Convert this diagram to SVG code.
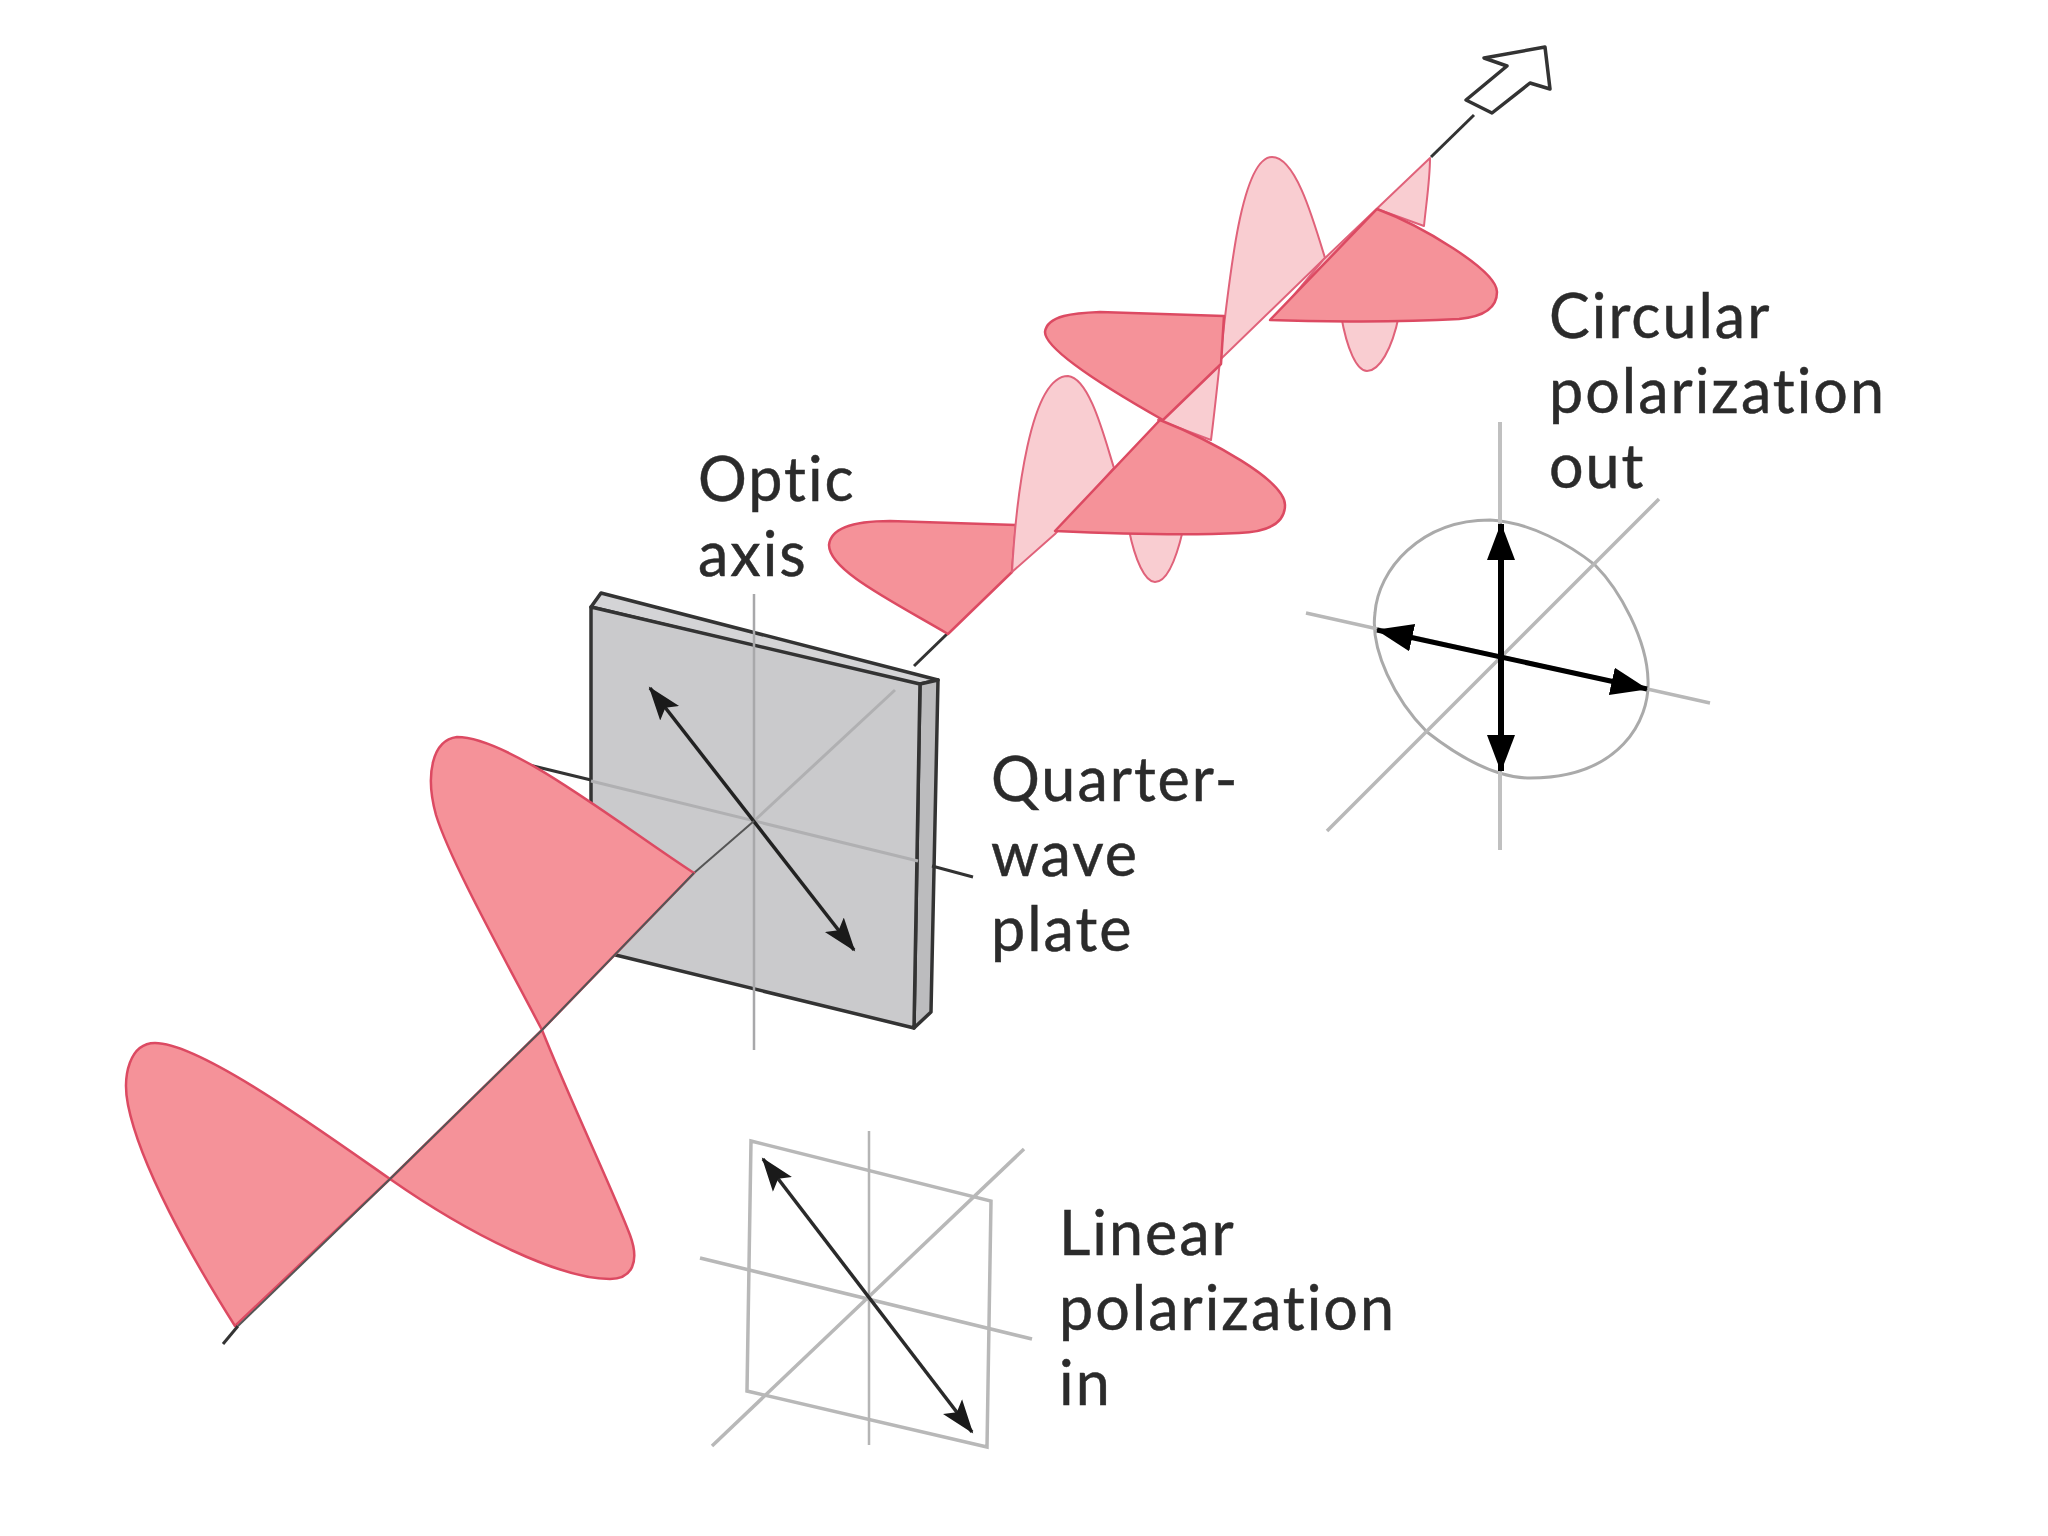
<svg xmlns="http://www.w3.org/2000/svg" width="2048" height="1536" viewBox="0 0 2048 1536">
<style>
.lbl{font-family:Lato,"Open Sans",sans-serif;font-size:61px;letter-spacing:2px;fill:#2b2b2b;stroke:#2b2b2b;stroke-width:.5}
.dark{fill:#f59299;stroke:#dc4a62;stroke-width:2.5;stroke-linejoin:round}
.light{fill:#f9cdd1;stroke:#e0627a;stroke-width:2;stroke-linejoin:round}
.ax{stroke:#555;stroke-width:2;fill:none}
.blk{stroke:#333;stroke-width:3;fill:none}
.gr{stroke:#b8b8b8;stroke-width:3.5;fill:none}
</style>
<defs>
<marker id="ah" markerUnits="userSpaceOnUse" markerWidth="36" markerHeight="28" refX="32" refY="14" orient="auto-start-reverse"><path d="M0,2 L34,14 L0,26 L7,14 Z" fill="#1a1a1a"/></marker>
<marker id="ahb" markerUnits="userSpaceOnUse" markerWidth="38" markerHeight="32" refX="36" refY="15" orient="auto-start-reverse"><path d="M0,1 L37,15 L0,29 Z" fill="#000"/></marker>
</defs>
<rect width="2048" height="1536" fill="#fff"/>

<g id="upper-wave">
<line class="blk" x1="914" y1="666" x2="947" y2="634"/>
<path class="light" d="M1129,530 C1135,560 1145,582 1155,582 C1167,582 1176,560 1183,530 Z"/>
<path class="light" d="M1341,315 C1347,350 1357,371 1367,371 C1379,371 1392,350 1399,315 Z"/>
<path class="dark" d="M948,634 C890,600 829,570 829,545 C831,526 860,521 890,521 L1016,525 L1012,572 Z"/>
<path class="light" d="M1012,572 C1016,500 1030,376 1068,376 C1090,378 1105,440 1114,468 L1055,534 Z"/>
<path class="light" d="M1158,420 L1325,258 C1312,215 1295,157 1272,157 C1235,157 1225,330 1211,440 Z"/>
<path class="dark" d="M1163,420 C1110,390 1045,350 1045,332 C1047,315 1075,313 1100,312 L1224,316 L1221,364 Z"/>
<path class="dark" d="M1055,531 L1160,420 C1210,440 1285,480 1285,505 C1285,525 1265,532 1239,533 C1180,536 1100,533 1055,531 Z"/>
<path class="light" d="M1323,260 L1430,158 C1430,180 1426,205 1424,226 L1377,209 L1290,300 Z"/>
<path class="dark" d="M1270,320 L1377,209 C1420,225 1497,270 1497,292 C1497,310 1480,317 1459,319 C1400,322 1320,322 1270,320 Z"/>
<line class="blk" x1="1431" y1="157" x2="1474" y2="115"/>
<path id="out-arrow" d="M1466,100 L1492,113 L1530,83 L1550,89 L1545,47 L1484,58 L1507,66 Z" fill="#fff" stroke="#333" stroke-width="3.5" stroke-linejoin="round"/>
</g>

<g id="plate">
<line class="blk" x1="525" y1="764" x2="591" y2="780"/>
<path d="M591,607 L601,593 L938,680 L916,685 Z" fill="#d4d4d6" stroke="#333" stroke-width="3.5" stroke-linejoin="round"/>
<path d="M920,684 L938,680 L931,1012 L914,1028 Z" fill="#bcbcbe" stroke="#333" stroke-width="3.5" stroke-linejoin="round"/>
<path d="M591,607 L920,684 L914,1028 L591,949 Z" fill="#cacacc" stroke="#333" stroke-width="3.5" stroke-linejoin="round"/>
<line x1="754" y1="594" x2="754" y2="1050" stroke="#a8a8aa" stroke-width="2.5"/>
<line x1="591" y1="781" x2="918" y2="861" stroke="#b0b0b2" stroke-width="3"/>
<line x1="754" y1="821" x2="895" y2="690" stroke="#b0b0b2" stroke-width="3"/>
<line class="blk" x1="932" y1="866" x2="973" y2="877"/>
<line x1="650" y1="688" x2="854" y2="950" stroke="#222" stroke-width="3.5" marker-start="url(#ah)" marker-end="url(#ah)"/>
</g>

<g id="lower-wave">
<line class="ax" x1="694" y1="873" x2="754" y2="821" stroke-width="3"/>
<path class="dark" d="M694,873 C620,825 510,737 457,737 C432,740 425,775 436,815 C450,860 500,950 542,1030 Z"/>
<path class="dark" d="M542,1030 C570,1100 615,1195 630,1235 C640,1262 632,1279 610,1279 C560,1279 470,1235 390,1179 Z"/>
<path class="dark" d="M390,1179 C320,1130 200,1043 155,1043 C130,1043 122,1075 128,1105 C140,1165 190,1255 235,1326 Z"/>
<line class="ax" x1="694" y1="873" x2="542" y2="1030"/>
<line class="ax" x1="542" y1="1030" x2="390" y2="1179"/>
<line class="ax" x1="390" y1="1179" x2="238" y2="1326"/>
<line class="blk" x1="238" y1="1326" x2="223" y2="1344"/>
</g>

<g id="linear-frame">
<path class="gr" d="M751,1141 L991,1201 L987,1447 L747,1391 Z"/>
<line x1="869" y1="1131" x2="869" y2="1445" stroke="#b5b5b5" stroke-width="2.5"/>
<line class="gr" x1="700" y1="1258" x2="1032" y2="1339"/>
<line class="gr" x1="1024" y1="1149" x2="712" y2="1446"/>
<line x1="763" y1="1159" x2="972" y2="1432" stroke="#2a2a2a" stroke-width="3.5" marker-start="url(#ah)" marker-end="url(#ah)"/>
</g>

<g id="circular-frame">
<path d="M1375,613 C1378,570 1420,520 1490,520 C1530,522 1570,545 1595,565 C1620,590 1647,640 1648,680 C1650,720 1620,778 1530,778 C1490,778 1450,750 1427,732 C1395,700 1370,650 1375,613 Z" fill="none" stroke="#aaa" stroke-width="3"/>
<line x1="1500" y1="422" x2="1500" y2="850" stroke="#c0c0c0" stroke-width="4"/>
<line class="gr" x1="1306" y1="613" x2="1710" y2="703"/>
<line class="gr" x1="1659" y1="499" x2="1327" y2="831"/>
<line x1="1501" y1="524" x2="1501" y2="771" stroke="#000" stroke-width="6" marker-start="url(#ahb)" marker-end="url(#ahb)"/>
<line x1="1377" y1="630" x2="1647" y2="689" stroke="#000" stroke-width="5" marker-start="url(#ahb)" marker-end="url(#ahb)"/>
</g>

<g id="labels">
<text class="lbl"><tspan x="698" y="501">Optic</tspan><tspan x="698" y="576">axis</tspan></text>
<text class="lbl"><tspan x="1549" y="338">Circular</tspan><tspan x="1549" y="413">polarization</tspan><tspan x="1549" y="488">out</tspan></text>
<text class="lbl"><tspan x="991" y="801">Quarter-</tspan><tspan x="991" y="876">wave</tspan><tspan x="991" y="951">plate</tspan></text>
<text class="lbl"><tspan x="1059" y="1255">Linear</tspan><tspan x="1059" y="1330">polarization</tspan><tspan x="1059" y="1405">in</tspan></text>
</g>
</svg>
